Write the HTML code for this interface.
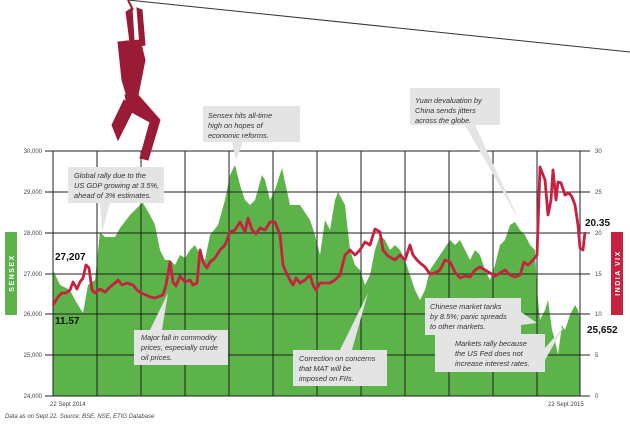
<!DOCTYPE html>
<html><head><meta charset="utf-8"><style>
html,body{margin:0;padding:0;background:#fff;}
svg{display:block;font-family:"Liberation Sans",sans-serif;}
.an{font-size:7.4px;font-style:italic;fill:#333;}
.tk{font-size:6px;fill:#444;}
</style></head><body>
<svg width="630" height="426" viewBox="0 0 630 426">
<line x1="128" y1="0" x2="630" y2="52" stroke="#333" stroke-width="1"/>
<path fill="#5cb34a" d="M53,396 L53,270 L60,285 L70,290 L75,300 L83,313 L88,285 L95,280 L100,232 L105,237 L115,237 L120,228 L130,215 L140,205 L143,203 L150,215 L155,225 L160,250 L165,260 L170,260 L175,265 L180,255 L185,258 L190,250 L195,245 L200,255 L205,260 L210,235 L218,225 L225,200 L230,175 L235,165 L240,185 L245,200 L250,205 L255,200 L262,175 L265,180 L270,200 L275,190 L282,168 L290,205 L300,205 L310,220 L315,235 L320,255 L325,220 L330,230 L335,200 L338,192 L345,205 L350,250 L355,265 L360,270 L365,285 L370,275 L375,250 L380,235 L385,240 L390,250 L395,245 L400,250 L405,260 L410,275 L415,290 L420,300 L425,290 L430,270 L440,255 L450,240 L455,245 L460,240 L465,250 L470,260 L475,250 L480,255 L485,270 L490,280 L495,265 L500,245 L505,240 L510,225 L515,222 L520,230 L525,235 L530,245 L535,250 L537,290 L540,320 L545,310 L548,300 L552,330 L555,340 L558,355 L562,325 L565,330 L570,315 L575,305 L578,310 L580,320 L580,396 Z"/>
<g stroke="#222" stroke-width="1">
<line x1="45" y1="151" x2="590" y2="151"/>
<line x1="45" y1="192" x2="590" y2="192"/>
<line x1="45" y1="233" x2="590" y2="233"/>
<line x1="45" y1="274" x2="590" y2="274"/>
<line x1="45" y1="314" x2="590" y2="314"/>
<line x1="45" y1="355" x2="590" y2="355"/>
<line x1="45" y1="396" x2="590" y2="396"/>
<line x1="53" y1="151" x2="53" y2="396"/>
<line x1="97" y1="151" x2="97" y2="396"/>
<line x1="141" y1="151" x2="141" y2="396"/>
<line x1="185" y1="151" x2="185" y2="396"/>
<line x1="229" y1="151" x2="229" y2="396"/>
<line x1="273" y1="151" x2="273" y2="396"/>
<line x1="317" y1="151" x2="317" y2="396"/>
<line x1="361" y1="151" x2="361" y2="396"/>
<line x1="405" y1="151" x2="405" y2="396"/>
<line x1="449" y1="151" x2="449" y2="396"/>
<line x1="493" y1="151" x2="493" y2="396"/>
<line x1="537" y1="151" x2="537" y2="396"/>
<line x1="580" y1="151" x2="580" y2="396"/>
</g>
<polyline fill="none" stroke="#c8203f" stroke-width="2.8" stroke-linejoin="round" points="53,305 58,297 62,293 66,293 70,290 73,282 77,289 80,282 83,278 86,265 89,268 92,290 95,293 100,289 105,292 110,287 115,283 118,280 122,285 127,283 133,285 137,290 141,293 146,295 150,297 155,298 160,296 163,295 166,285 170,262 173,282 176,286 180,276 185,282 190,280 193,285 197,283 200,250 203,262 207,268 210,262 215,258 220,250 225,245 230,232 235,230 240,222 245,232 248,218 252,230 256,234 260,228 265,230 270,222 275,222 280,235 283,265 286,272 290,280 293,285 296,278 300,283 305,280 310,275 313,285 316,290 320,283 325,283 330,283 335,280 340,275 345,255 350,250 355,255 360,250 365,242 370,245 375,229 380,232 383,250 388,256 395,260 400,255 405,260 410,245 413,255 417,260 420,263 425,267 430,274 435,273 440,270 445,260 450,262 455,272 460,278 465,276 470,277 475,270 480,267 485,270 490,273 495,276 500,273 505,270 510,275 515,277 520,275 524,262 528,265 533,260 537,255 540,167 545,180 548,215 551,200 553,170 556,200 558,182 561,183 565,195 569,193 572,197 575,205 578,225 580,248 583,250 585,232"/>
<g class="tk" text-anchor="end">
<text x="42" y="153">30,000</text><text x="42" y="194">29,000</text><text x="42" y="235">28,000</text>
<text x="42" y="276">27,000</text><text x="42" y="316">26,000</text><text x="42" y="357">25,000</text><text x="42" y="398">24,000</text>
</g>
<g class="tk">
<text x="595" y="153">30</text><text x="595" y="194">25</text><text x="595" y="235">20</text>
<text x="595" y="276">15</text><text x="595" y="316">10</text><text x="595" y="357">5</text><text x="595" y="398">0</text>
<text x="50" y="406">22 Sept 2014</text><text x="548" y="406">22 Sept 2015</text>
<text x="5" y="418" font-style="italic">Data as on Sept 22. Source: BSE, NSE, ETIG Database</text>
</g>
<rect x="5" y="232" width="12" height="83" fill="#5cb34a"/>
<text transform="translate(14,273) rotate(-90)" text-anchor="middle" font-size="7" font-weight="bold" fill="#fff" letter-spacing="1.5">SENSEX</text>
<rect x="611" y="232" width="12" height="83" fill="#c8203f"/>
<text transform="translate(620,273) rotate(-90)" text-anchor="middle" font-size="7" font-weight="bold" fill="#fff" letter-spacing="1.5">INDIA VIX</text>
<g font-size="10" font-weight="bold" fill="#111">
<text x="55" y="260">27,207</text><text x="55" y="324">11.57</text>
<text x="585" y="226">20.35</text><text x="587" y="333">25,652</text>
</g>
<g fill="#e4e4e4">
<path d="M68,167 H164 V203 H110 L102,232 L100,203 H68 Z"/>
<path d="M134,330 H228 V365 H134 Z M150,330 L168,293 L162,330 Z"/>
<path d="M203,106 H300 V142 H243 L236,160 L232,142 H203 Z"/>
<path d="M293,350 H387 V386 H293 Z M340,350 L368,293 L352,350 Z"/>
<path d="M410,88 H500 V125 H475 L520,222 L465,125 H410 Z"/>
<path d="M425,298 H521 V335 H425 Z M521,312 L537,323 L521,325 Z"/>
<path d="M435,334 H545 V372 H435 Z M545,348 L565,325 L545,360 Z"/>
</g>
<g class="an">
<text x="74" y="178">Global rally due to the</text><text x="74" y="188">US GDP growing at 3.5%,</text><text x="74" y="198">ahead of 3% estimates.</text>
<text x="141" y="340">Major fall in commodity</text><text x="141" y="350">prices, especially crude</text><text x="141" y="360">oil prices.</text>
<text x="208" y="118">Sensex hits all-time</text><text x="208" y="128">high on hopes of</text><text x="208" y="138">economic reforms.</text>
<text x="299" y="361">Correction on concerns</text><text x="299" y="371">that MAT will be</text><text x="299" y="381">imposed on FIIs.</text>
<text x="415" y="103">Yuan devaluation by</text><text x="415" y="113">China sends jitters</text><text x="415" y="123">across the globe.</text>
<text x="430" y="309">Chinese market tanks</text><text x="430" y="319">by 8.5%; panic spreads</text><text x="430" y="329">to other markets.</text>
<text x="455" y="346">Markets rally because</text><text x="455" y="356">the US Fed does not</text><text x="455" y="366">increase interest rates.</text>
</g>
<g fill="#9a1b35" stroke="#9a1b35">
<line x1="128" y1="0" x2="133" y2="10" stroke-width="2"/>
<path d="M126,12 L132,8 L134,40 L130,42 Z"/>
<path d="M137,8 L142,10 L145,45 L140,46 Z"/>
<path d="M118,42 L140,40 L145,60 L138,95 L128,100 L122,80 Z"/>
<path d="M125,95 L138,95 L160,120 L148,160 L140,158 L150,122 L128,110 Z"/>
<path d="M124,100 L134,108 L118,140 L112,125 Z"/>
<circle cx="127" cy="48" r="7"/>
</g>
</svg>
</body></html>
